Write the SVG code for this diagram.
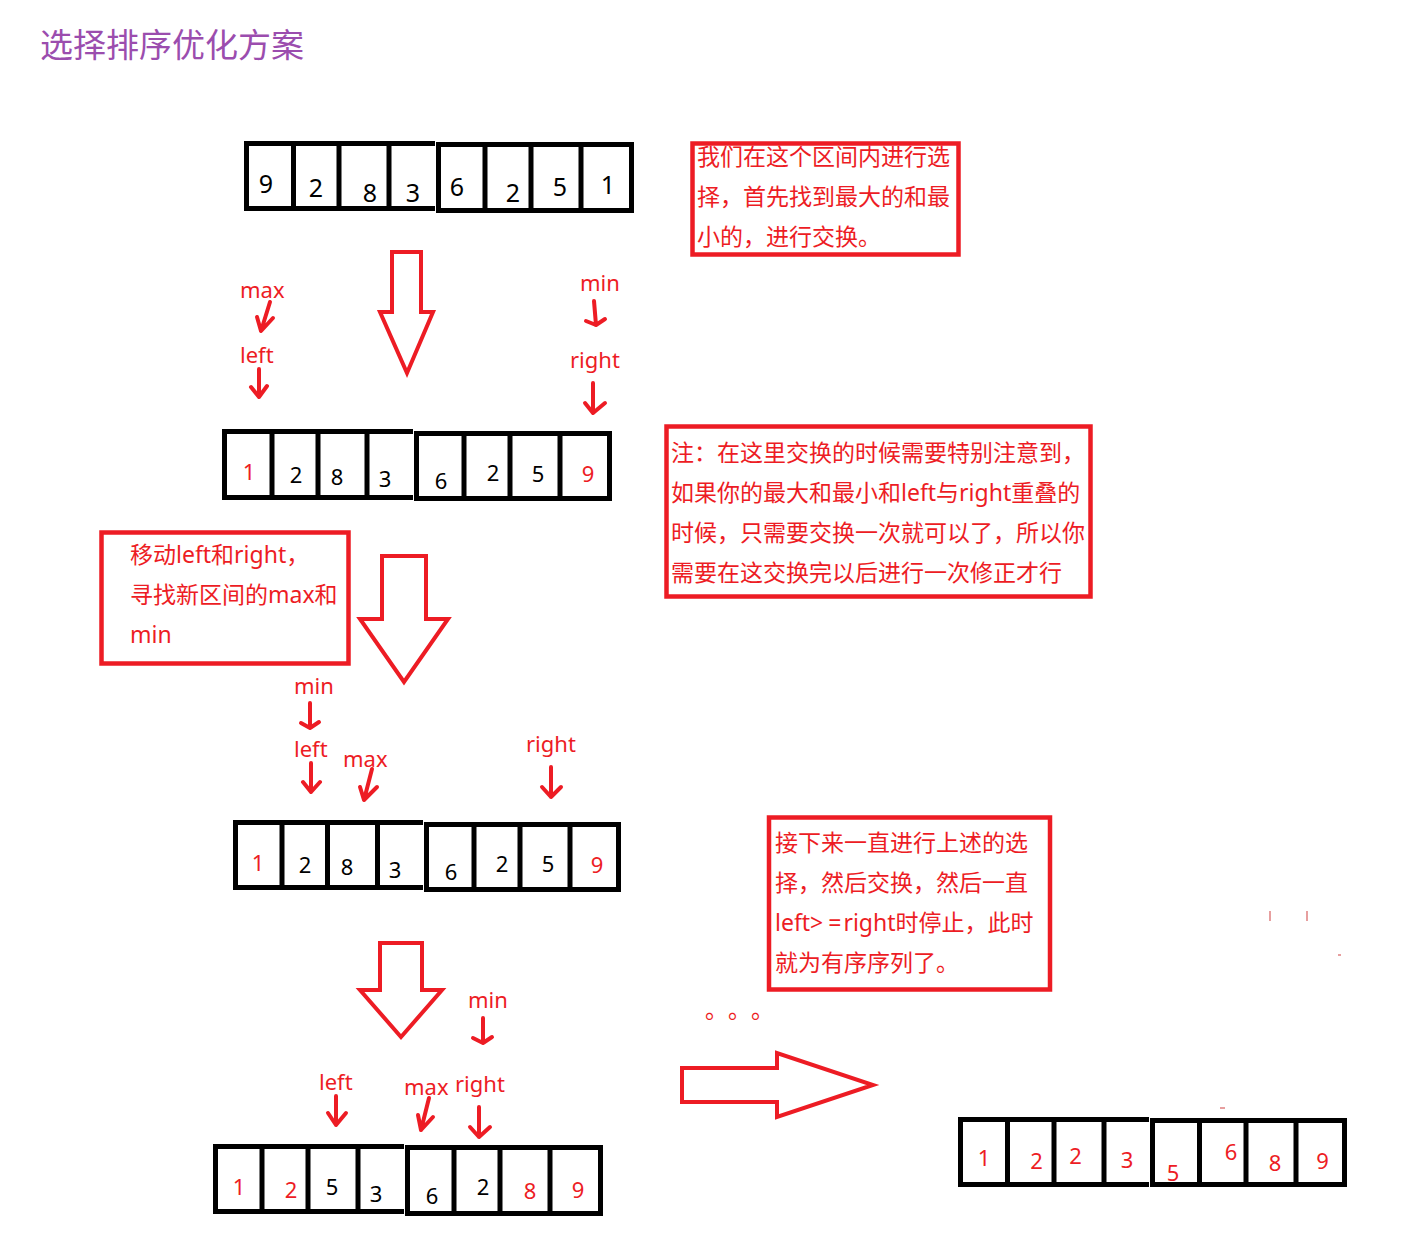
<svg xmlns="http://www.w3.org/2000/svg" width="1428" height="1254" viewBox="0 0 1428 1254">
<style>
.bg{fill:#ffffff}
.cell{fill:none;stroke:#000;stroke-width:5}
.div{stroke:#000;stroke-width:5}
.d{font-family:"Noto Sans","Open Sans",sans-serif;font-size:22px;text-anchor:middle;fill:#000}
.d1{font-size:25px}
.r{fill:#ed1c24}
.lbl{font-family:"Noto Sans","Open Sans",sans-serif;font-size:22px;fill:#ed1c24}
.box{fill:none;stroke:#ed1c24;stroke-width:4.5}
.txt{font-family:"Noto Sans","Noto Sans CJK SC",sans-serif;font-size:23px;fill:#ed1c24}
.cjk{font-family:"Noto Sans CJK SC",sans-serif;font-size:23px;fill:#ed1c24}
.big{fill:#fff;stroke:#ed1c24;stroke-width:4;stroke-linejoin:miter}
.sa{fill:none;stroke:#ed1c24;stroke-width:4;stroke-linecap:round;stroke-linejoin:round}
.title{font-family:"Noto Sans CJK SC",sans-serif;font-size:33px;fill:#9b4dae}
.stray{stroke:#e08080;stroke-width:1.5}
</style>
<rect class="bg" x="0" y="0" width="1428" height="1254"/>

<g id="title"><text class="title" x="40" y="57">选择排序优化方案</text></g>

<g id="array1">
<path class="cell" d="M435,143.5 H246.5 V208.5 H435"/>
<rect class="cell" x="438.5" y="144.5" width="193" height="66"/>
<path class="div" d="M293.5,141V211 M339,141V211 M389,141V211 M485,142V213 M531,142V213 M581,142V213"/>
<text class="d d1" x="266" y="193">9</text>
<text class="d d1" x="316" y="197">2</text>
<text class="d d1" x="370" y="202">8</text>
<text class="d d1" x="413" y="202">3</text>
<text class="d d1" x="457" y="196">6</text>
<text class="d d1" x="513" y="202">2</text>
<text class="d d1" x="560" y="196">5</text>
<text class="d d1" x="608" y="194">1</text>
</g>

<g id="note1">
<rect class="box" x="692.5" y="143.5" width="266" height="111"/>
<text class="txt" x="697" y="165">我们在这个区间内进行选</text>
<text class="txt" x="697" y="205">择，首先找到最大的和最</text>
<text class="txt" x="697" y="245">小的，进行交换。</text>
</g>

<g id="array2">
<path class="cell" d="M413,431.5 H224.5 V497.5 H413"/>
<rect class="cell" x="416.5" y="433.5" width="193" height="65"/>
<path class="div" d="M272,429V500 M318,429V500 M367,429V500 M464,431V501 M510,431V501 M560,431V501"/>
<text class="d r" x="249" y="480">1</text>
<text class="d" x="296" y="483">2</text>
<text class="d" x="337" y="485">8</text>
<text class="d" x="385" y="487">3</text>
<text class="d" x="441" y="489">6</text>
<text class="d" x="493" y="481">2</text>
<text class="d" x="538" y="482">5</text>
<text class="d r" x="588" y="482">9</text>
</g>

<g id="note2">
<rect class="box" x="666.5" y="426.5" width="424" height="170"/>
<text class="txt" x="671" y="461">注：在这里交换的时候需要特别注意到，</text>
<text class="txt" x="671" y="501">如果你的最大和最小和left与right重叠的</text>
<text class="txt" x="671" y="541">时候，只需要交换一次就可以了，所以你</text>
<text class="txt" x="671" y="581">需要在这交换完以后进行一次修正才行</text>
</g>

<g id="note3">
<rect class="box" x="101.5" y="532.5" width="247" height="131"/>
<text class="txt" x="130" y="563">移动left和right，</text>
<text class="txt" x="130" y="603">寻找新区间的max和</text>
<text class="txt" x="130" y="643">min</text>
</g>

<g id="array3">
<path class="cell" d="M423,822.5 H235.5 V887.5 H423"/>
<rect class="cell" x="426.5" y="824.5" width="192" height="65"/>
<path class="div" d="M282,820V890 M327.5,820V890 M377.5,820V890 M474,822V892 M520,822V892 M570,822V892"/>
<text class="d r" x="258" y="871">1</text>
<text class="d" x="305" y="873">2</text>
<text class="d" x="347" y="875">8</text>
<text class="d" x="395" y="878">3</text>
<text class="d" x="451" y="880">6</text>
<text class="d" x="502" y="872">2</text>
<text class="d" x="548" y="872">5</text>
<text class="d r" x="597" y="873">9</text>
</g>

<g id="note4">
<rect class="box" x="769" y="817.5" width="281" height="172"/>
<text class="txt" x="775" y="851">接下来一直进行上述的选</text>
<text class="txt" x="775" y="891">择，然后交换，然后一直</text>
<text class="txt" x="775" y="931">left&gt;<tspan dx="5">=</tspan><tspan dx="2">right时停止，此时</tspan></text>
<text class="txt" x="775" y="971">就为有序序列了。</text>
</g>

<g id="ellipsis"><text class="cjk" x="705 728 751" y="1018">。。。</text></g>

<g id="array4">
<path class="cell" d="M404,1146.5 H215.5 V1211.5 H404"/>
<rect class="cell" x="407.5" y="1147.5" width="193" height="66"/>
<path class="div" d="M262,1144V1214 M308,1144V1214 M358,1144V1214 M454,1145V1216 M500,1145V1216 M550,1145V1216"/>
<text class="d r" x="239" y="1195">1</text>
<text class="d r" x="291" y="1198">2</text>
<text class="d" x="332" y="1195">5</text>
<text class="d" x="376" y="1202">3</text>
<text class="d" x="432" y="1204">6</text>
<text class="d" x="483" y="1195">2</text>
<text class="d r" x="530" y="1199">8</text>
<text class="d r" x="578" y="1198">9</text>
</g>

<g id="array5">
<path class="cell" d="M1149,1119.5 H960.5 V1184.5 H1149"/>
<rect class="cell" x="1152.5" y="1120.5" width="192" height="64"/>
<path class="div" d="M1007.5,1117V1187 M1054,1117V1187 M1104,1117V1187 M1199.5,1118V1187 M1246,1118V1187 M1296,1118V1187"/>
<text class="d r" x="984" y="1166">1</text>
<text class="d r" x="1036.5" y="1169">2</text>
<text class="d r" x="1075.5" y="1164">2</text>
<text class="d r" x="1127" y="1168">3</text>
<text class="d r" x="1173" y="1181">5</text>
<text class="d r" x="1231" y="1160">6</text>
<text class="d r" x="1275" y="1171">8</text>
<text class="d r" x="1322.5" y="1169">9</text>
</g>

<g id="labels">
<text class="lbl" x="240" y="298">max</text>
<text class="lbl" x="240" y="363">left</text>
<text class="lbl" x="580" y="291">min</text>
<text class="lbl" x="570" y="368">right</text>
<text class="lbl" x="294" y="694">min</text>
<text class="lbl" x="294" y="757">left</text>
<text class="lbl" x="343" y="767">max</text>
<text class="lbl" x="526" y="752">right</text>
<text class="lbl" x="468" y="1008">min</text>
<text class="lbl" x="319" y="1090">left</text>
<text class="lbl" x="404" y="1095">max</text>
<text class="lbl" x="455" y="1092">right</text>
</g>

<g id="connectors">
<polygon class="big" points="392,252 421,252 421,312 433,312 407,373 380,312 392,312"/>
<polygon class="big" points="382,556 426,556 426,619 448,619 404,682 360,619 382,619"/>
<polygon class="big" points="380,943 422,943 422,990 442,990 401,1037 360,990 380,990"/>
<polygon class="big" points="682,1068 777,1068 777,1053 873,1085 777,1117 777,1102 682,1102"/>
<path class="sa" d="M270,302 L261,331 M257,317 L261,331 L273,318"/>
<path class="sa" d="M259,369 V397 M251,387 L259,397 L267,386"/>
<path class="sa" d="M594,301 L596,325 M586,321 L596,325 L605,319"/>
<path class="sa" d="M593,383 V413 M585,403 L593,413 L605,403"/>
<path class="sa" d="M310,703 V728 M301,723 L310,728 L319,722"/>
<path class="sa" d="M311,763 V792 M303,782 L311,792 L320,782"/>
<path class="sa" d="M372,769 L364,800 M360,787 L364,800 L377,787"/>
<path class="sa" d="M551,767 V797 M542,787 L551,797 L561,787"/>
<path class="sa" d="M483,1018 V1043 M473,1038 L483,1043 L492,1037"/>
<path class="sa" d="M336,1096 V1125 M328,1113 L336,1125 L346,1113"/>
<path class="sa" d="M429,1098 L421,1130 M418,1115 L421,1130 L433,1117"/>
<path class="sa" d="M479,1107 V1137 M470,1127 L479,1137 L490,1127"/>
</g>

<g id="marks">
<path class="stray" d="M1270,911V921 M1307,911V921 M1338,955H1341 M1220,1108H1225"/>
</g>
</svg>
